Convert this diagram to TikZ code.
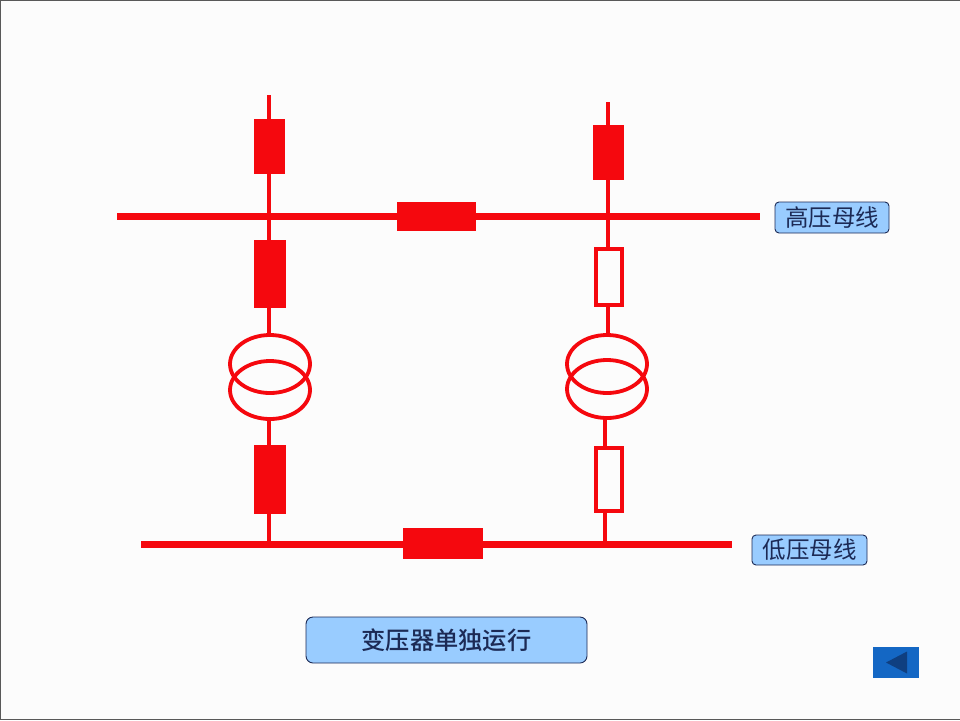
\documentclass[tikz,border=0pt]{standalone}
\usepackage{fontspec}
\setmainfont{Noto Sans CJK SC}
\newfontface\titleface{Noto Sans CJK SC Medium}
\definecolor{busred}{HTML}{F5080E}
\definecolor{lineblue}{HTML}{99CCFF}
\definecolor{inkblue}{HTML}{1C2A55}
\definecolor{btnblue}{HTML}{1467C4}
\definecolor{btndark}{HTML}{0F3F80}
\tikzset{
  bus/.style={draw=busred,line width=7pt},
  wire/.style={draw=busred,line width=4pt},
  solidbrk/.style={draw=none,fill=busred,inner sep=0pt,minimum width=#1},
  hollowbrk/.style={draw=busred,line width=4pt,fill=white!99!black,inner sep=0pt,minimum width=26pt},
  winding/.style={draw=busred,line width=3.8pt},
  tag/.style={draw=inkblue,line width=0.9pt,fill=lineblue,rounded corners=4pt,text=inkblue,inner sep=0pt,font=\fontsize{23.5}{25}\selectfont},
}
\begin{document}
\begin{tikzpicture}[x=1pt,y=-1pt]
\useasboundingbox (0,0) rectangle (960,720);
\fill[white!99!black] (0,0) rectangle (960,720);
\draw[black!65,line width=1.6pt] (0,720) -- (0,0) -- (960,0);
\draw[black!65,line width=1.2pt] (0,719.6) -- (960,719.6);
% named points
\coordinate (hW) at (117,216);
\coordinate (hE) at (760,216);
\coordinate (lW) at (141,544);
\coordinate (lE) at (732,544);
\coordinate (hA) at (269,216);
\coordinate (hB) at (608,216);
\coordinate (lA) at (269,544);
\coordinate (lB) at (605,544);
\coordinate (feedA) at (269,95);
\coordinate (feedB) at (608,102);
% buses
\draw[bus] (hW) -- (hE);
\draw[bus] (lW) -- (lE);
% breakers
\node[solidbrk=31pt,minimum height=55pt] (ta) at (269.5,146.5) {};
\node[solidbrk=31pt,minimum height=55pt] (tb) at (608.5,152.5) {};
\node[solidbrk=79pt,minimum height=29pt] (hTie) at (436.5,216.5) {};
\node[solidbrk=80pt,minimum height=31pt] (lTie) at (443,543.5) {};
\node[solidbrk=32pt,minimum height=68pt] (ua) at (270,274) {};
\node[solidbrk=32pt,minimum height=69pt] (da) at (270,479.5) {};
\node[hollowbrk,minimum height=56pt] (ub) at (609,277) {};
\node[hollowbrk,minimum height=63pt] (db) at (609,479.5) {};
% transformers
\node[draw=none,inner sep=0pt,minimum width=80pt,minimum height=58pt] (xaH) at (270,364) {};
\node[draw=none,inner sep=0pt,minimum width=80pt,minimum height=58pt] (xaL) at (270,390) {};
\node[draw=none,inner sep=0pt,minimum width=80pt,minimum height=58pt] (xbH) at (607,364) {};
\node[draw=none,inner sep=0pt,minimum width=80pt,minimum height=58pt] (xbL) at (607,389) {};
\draw[winding] (270,364) ellipse [x radius=40, y radius=29];
\draw[winding] (270,390) ellipse [x radius=40, y radius=29];
\draw[winding] (607,364) ellipse [x radius=40, y radius=29];
\draw[winding] (607,389) ellipse [x radius=40, y radius=29];
% connectors
\draw[wire] (feedA) -- (ta.north -| feedA);
\draw[wire] (ta.south -| hA) -- (hA);
\draw[wire] (hA) -- (ua.north -| hA);
\draw[wire] (ua.south -| hA) -- (xaH.north -| hA);
\draw[wire] (xaL.south -| hA) -- (da.north -| hA);
\draw[wire] (da.south -| hA) -- (lA);
\draw[wire] (feedB) -- (tb.north -| feedB);
\draw[wire] (tb.south -| hB) -- (hB);
\draw[wire] (hB) -- (ub.north -| hB);
\draw[wire] (ub.south -| hB) -- (xbH.north -| hB);
\draw[wire] (xbL.south -| lB) -- (db.north -| lB);
\draw[wire] (db.south -| lB) -- (lB);
% labels
\node[tag,minimum width=114pt,minimum height=31pt] (hLabel) at (832,217.5) {高压母线};
\node[tag,minimum width=115pt,minimum height=30pt] (lLabel) at (809.5,550) {低压母线};
\node[tag,minimum width=281pt,minimum height=46pt,rounded corners=7pt,font=\fontsize{24.3}{26}\selectfont\titleface] (title) at (446.5,640) {变压器单独运行};
% back button
\node[draw=none,fill=btnblue,inner sep=0pt,minimum width=46pt,minimum height=31pt] (btn) at (896,662.5) {};
\fill[btndark] (886,662.5) -- (907,651.5) -- (907,673.5) -- cycle;
\end{tikzpicture}
\end{document}
